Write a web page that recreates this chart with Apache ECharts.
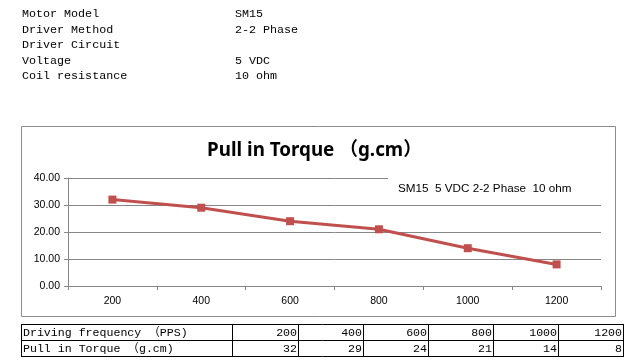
<!DOCTYPE html>
<html><head><meta charset="utf-8">
<script src="https://cdn.jsdelivr.net/npm/echarts@6/dist/echarts.min.js"></script>
<style>html,body{margin:0;padding:0;background:#fff}#c{width:640px;height:364px}</style>
</head><body><div id="c"></div>
<script>
const infoLabels = ['Motor Model','Driver Method','Driver Circuit','Voltage','Coil resistance'];
const infoValues = ['SM15','2-2 Phase','','5 VDC','10 ohm'];
const categories = ['200','400','600','800','1000','1200'];
const torque = [32, 29, 24, 21, 14, 8];
const seriesName = 'SM15  5 VDC 2-2 Phase  10 ohm';
const chartTitle = 'Pull in Torque （g.cm）';
const rowHeaders = ['Driving frequency （PPS)', 'Pull in Torque （g.cm)'];
const yTicks = [0, 10, 20, 30, 40];

const mono = '"Liberation Mono","DejaVu Sans Mono","Noto Sans CJK SC",monospace';
const graphics = [];
// info block
const infoY = [14, 29.5, 45, 60.5, 76];
infoLabels.forEach((t,i)=>{
  graphics.push({type:'text', x:22, y:infoY[i], style:{text:t, font:'11.7px '+mono, fill:'#000', verticalAlign:'middle'}});
  if (infoValues[i]) graphics.push({type:'text', x:235, y:infoY[i], style:{text:infoValues[i], font:'11.7px '+mono, fill:'#000', verticalAlign:'middle'}});
});
// chart frame
graphics.push({type:'rect', shape:{x:21.5,y:126.5,width:594,height:190}, style:{fill:null, stroke:'#8c8c8c', lineWidth:1}, z:-10});
// title
graphics.push({type:'text', x:314.5, y:151, style:{text:chartTitle, font:'bold 18.8px "Noto Sans","Noto Sans CJK SC",sans-serif', fill:'#000', align:'center', verticalAlign:'middle'}});
// table
const colX = [21, 232, 298, 363, 428, 493, 558, 623];
const rowY = [324, 340, 356];
rowY.forEach(y=>graphics.push({type:'line', shape:{x1:colX[0], y1:y+0.5, x2:colX[colX.length-1]+1, y2:y+0.5}, style:{stroke:'#000', lineWidth:1}}));
colX.forEach(x=>graphics.push({type:'line', shape:{x1:x+0.5, y1:rowY[0], x2:x+0.5, y2:rowY[2]+1}, style:{stroke:'#000', lineWidth:1}}));
const tableRows = [categories, torque.map(String)];
tableRows.forEach((row, r)=>{
  const cy = (rowY[r]+rowY[r+1])/2 + 1;
  graphics.push({type:'text', x:23, y:cy, style:{text:rowHeaders[r], font:'11.6px '+mono, fill:'#000', verticalAlign:'middle'}});
  row.forEach((v,i)=>{
    graphics.push({type:'text', x:colX[i+2]-1, y:cy, style:{text:v, font:'11.6px '+mono, fill:'#000', align:'right', verticalAlign:'middle'}});
  });
});

const chart = echarts.init(document.getElementById('c'), null, {renderer:'canvas'});
chart.setOption({
  animation:false,
  backgroundColor:'#fff',
  grid:{left:68, right:39, top:178, bottom:78, containLabel:false},
  legend:{
    show:true, left:388, top:175, padding:[8,30,6,5], backgroundColor:'#fff',
    itemWidth:0, itemHeight:0, icon:'none', selectedMode:false,
    textStyle:{fontFamily:'"Liberation Sans","Noto Sans",sans-serif', fontSize:11.7, color:'#000'},
    data:[{name:seriesName, icon:'none'}]
  },
  xAxis:{
    type:'category', data:categories, boundaryGap:true,
    axisLine:{lineStyle:{color:'#868686'}},
    axisTick:{show:true, length:4, alignWithLabel:false, lineStyle:{color:'#868686'}},
    axisLabel:{color:'#000', fontSize:10.5, fontFamily:'"Liberation Sans",sans-serif', margin:10}
  },
  yAxis:{
    type:'value', min:0, max:40, interval:10,
    axisLine:{show:true, lineStyle:{color:'#868686'}},
    axisTick:{show:true, length:4, lineStyle:{color:'#868686'}},
    splitLine:{show:true, lineStyle:{color:'#868686'}},
    axisLabel:{color:'#000', fontSize:10.5, fontFamily:'"Liberation Sans",sans-serif', margin:8,
      formatter:v=>yTicks.includes(v)?v.toFixed(2):''}
  },
  series:[{
    name:seriesName, type:'line', data:torque,
    lineStyle:{color:'#C0504D', width:3},
    itemStyle:{color:'#C0504D'},
    symbol:'rect', symbolSize:8, showSymbol:true
  }],
  graphic:graphics
});
</script></body></html>
